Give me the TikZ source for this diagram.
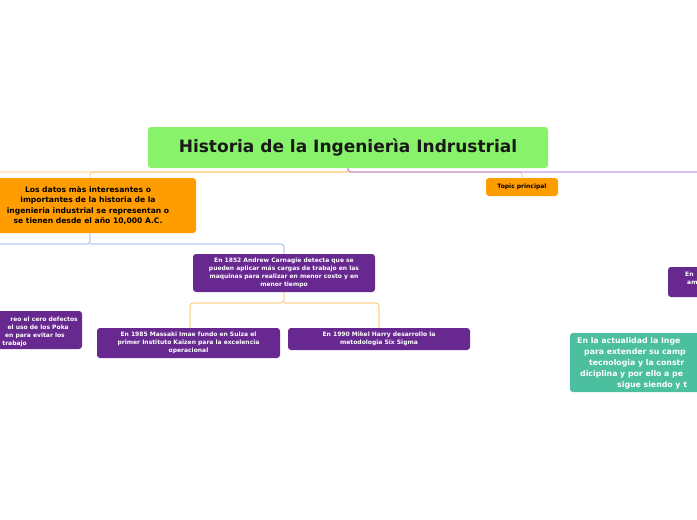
\documentclass[tikz,border=0pt]{standalone}
\usepackage{fontspec}
\setmainfont{DejaVu Sans}
\begin{document}
\begin{tikzpicture}[x=1pt,y=-1pt,
  box/.style={rounded corners=3pt,inner sep=0pt,font=\bfseries\fontsize{6}{8}\selectfont,align=center,text=white},
  pbox/.style={box,fill=purpleC},
  ln/.style={rounded corners=3pt,line width=0.6pt}]
\definecolor{greenC}{HTML}{88F26A}
\definecolor{orangeC}{HTML}{FF9D00}
\definecolor{purpleC}{HTML}{67298F}
\definecolor{tealC}{HTML}{4CBF9E}
\definecolor{blueL}{HTML}{7C9CF0}
\definecolor{purpleL}{HTML}{9B4DE0}
\definecolor{orangeL}{HTML}{FFC060}
\useasboundingbox (0,0) rectangle (697,520);
\clip (0,0) rectangle (697,520);
% lines
\draw[ln,orangeL] (348,168) -- (348,172) -- (0,172);
\draw[ln,orangeL] (348,172) -- (90,172) -- (90,178);
\draw[ln,orangeL] (348,172) -- (522,172) -- (522,178);
\draw[ln,purpleL] (348,168) -- (348,172) -- (697,172);
\draw[ln,blueL] (90,233) -- (90,244) -- (0,244);
\draw[ln,blueL] (90,244) -- (284,244) -- (284,254);
\draw[ln,orangeC!80] (284,292) -- (284,303) -- (190,303) -- (190,328);
\draw[ln,orangeC!80] (284,303) -- (379,303) -- (379,328);
% title
\node[box,fill=greenC,text=black!90,minimum width=400pt,minimum height=41pt,font=\bfseries\fontsize{17}{20}\selectfont] (title) at (348,147.5) {Historia de la Ingenierìa Indrustrial};
% orange main
\node[box,fill=orangeC,text=black,minimum width=216pt,minimum height=55pt,font=\bfseries\fontsize{7.6}{10.5}\selectfont] (datos) at (88,205.5) {Los datos màs interesantes o\\importantes de la historia de la\\ingenieria industrial se representan o\\se tienen desde el año 10,000 A.C.};
\node[box,fill=orangeC,text=black,minimum width=72pt,minimum height=18pt] (topic) at (522,187) {Topic principal};
\node[pbox,minimum width=182pt,minimum height=38pt] (andrew) at (284,273) {En 1852 Andrew Carnagie detecta que se\\pueden aplicar más cargas de trabajo en las\\maquinas para realizar en menor costo y en\\menor tiempo};
\node[pbox,minimum width=183pt,minimum height=30pt] (massaki) at (188.5,343) {En 1985 Massaki Imae fundo en Suiza el\\primer Instituto Kaizen para la excelencia\\operacional};
\node[pbox,minimum width=182pt,minimum height=22pt] (mikel) at (379,339) {En 1990 Mikel Harry desarrollo la\\metodologia Six Sigma};
% left cut box
\fill[purpleC,rounded corners=3pt] (-20,311) rectangle (82,349);
\node[anchor=east,text=white,font=\bfseries\fontsize{6}{8}\selectfont,inner sep=0pt] (l1) at (78,319) {reo el cero defectos};
\node[anchor=east,text=white,font=\bfseries\fontsize{6}{8}\selectfont,inner sep=0pt] (l2) at (69,327.5) {el uso de los Poka};
\node[anchor=east,text=white,font=\bfseries\fontsize{6}{8}\selectfont,inner sep=0pt] (l3) at (65,336) {en para evitar los};
\node[anchor=east,text=white,font=\bfseries\fontsize{6}{8}\selectfont,inner sep=0pt] (l4) at (27,344) {trabajo};
% right purple cut box
\fill[purpleC,rounded corners=3pt] (668,267) rectangle (720,297);
\node[anchor=west,text=white,font=\bfseries\fontsize{6}{8}\selectfont,inner sep=0pt] (r1) at (685,274) {En};
\node[anchor=west,text=white,font=\bfseries\fontsize{6}{8}\selectfont,inner sep=0pt] (r2) at (687,283) {am};
% teal cut box
\fill[tealC,rounded corners=3pt] (570,333) rectangle (720,392);
\foreach \t/\x/\y [count=\i] in {En la actualidad la Inge/577/341,para extender su camp/584/352,tecnologia y la constr/589/363,diciplina y por ello a pe/580/374,sigue siendo y t/617/385}
  \node[anchor=west,text=white,font=\bfseries\fontsize{7.8}{9}\selectfont,inner sep=0pt] (t\i) at (\x,\y) {\t};
\end{tikzpicture}
\end{document}
